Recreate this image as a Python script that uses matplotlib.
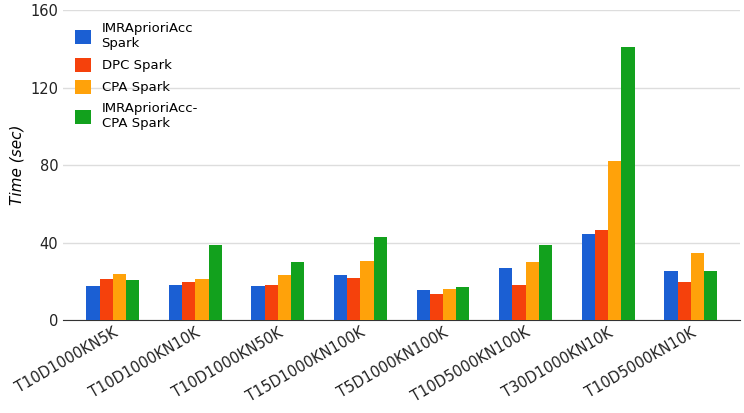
import matplotlib
matplotlib.use("Agg")
import matplotlib.pyplot as plt
import numpy as np

categories = ["T10D1000KN5K","T10D1000KN10K","T10D1000KN50K","T15D1000KN100K",
              "T5D1000KN100K","T10D5000KN100K","T30D1000KN10K","T10D5000KN10K"]
series_names = ["IMRAprioriAcc\nSpark","DPC Spark","CPA Spark","IMRAprioriAcc-\nCPA Spark"]
imr = [17.5,18,17.5,23.5,15.5,27,44.5,25.5]
dpc = [21,19.5,18,21.5,13.5,18,46.5,19.5]
cpa = [24,21,23.5,30.5,16,30,82,34.5]
imrcpa = [20.5,39,30,43,17,39,141,25.5]
yticks = [0,40,80,120,160]
colors = ["#1b5fd3","#f5410c","#ffa20a","#12a11d"]

fig = plt.figure(figsize=(7.44,4.13), dpi=100)
ax = fig.add_axes([0.085, 0.225, 0.91, 0.75])
x = np.arange(len(categories))
w = 0.16
for i,(vals,c,n) in enumerate(zip([imr,dpc,cpa,imrcpa],colors,series_names)):
    ax.bar(x+(i-1.5)*w, vals, w, color=c, label=n, zorder=3)
ax.set_ylim(0,160)
ax.set_xlim(-0.6, len(categories)-0.4)
ax.set_yticks(yticks)
ax.grid(axis='y', color='#dddddd', lw=1, zorder=0)
for s in ['top','right','left']:
    ax.spines[s].set_visible(False)
ax.spines['bottom'].set_color('#333333')
ax.tick_params(length=0, labelsize=10.5, colors='#222222')
ax.set_xticks(x)
ax.set_xticklabels(categories, rotation=30, ha='right', rotation_mode='anchor', fontsize=10.5)
ax.set_ylabel("Time (sec)", fontstyle='italic', fontsize=11, labelpad=4)
ax.legend(loc='upper left', bbox_to_anchor=(0.0,1.0), frameon=False, fontsize=9.5,
          handlelength=1.2, handleheight=1.2, labelspacing=0.6)
fig.savefig("out.png")
